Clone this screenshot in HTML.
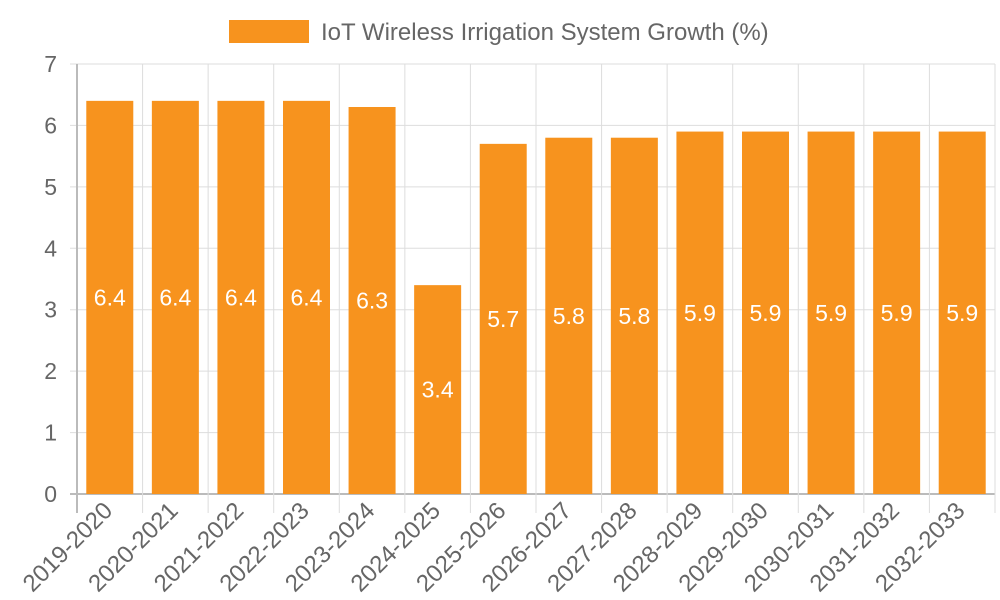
<!DOCTYPE html>
<html><head><meta charset="utf-8"><style>
body{margin:0;background:#fff;}
svg{display:block;font-family:"Liberation Sans",sans-serif;}
</style></head><body>
<svg id="chart" width="1000" height="600">
<rect x="229" y="20" width="80" height="23" fill="#f7931e"/>
<text x="321" y="40" font-size="24" fill="#666">IoT Wireless Irrigation System Growth (%)</text>
<g id="grid"></g><g id="bars"></g><g id="labels"></g>
</svg>
<script>
const categories=["2019-2020","2020-2021","2021-2022","2022-2023","2023-2024","2024-2025","2025-2026","2026-2027","2027-2028","2028-2029","2029-2030","2030-2031","2031-2032","2032-2033"];
const values=[6.4,6.4,6.4,6.4,6.3,3.4,5.7,5.8,5.8,5.9,5.9,5.9,5.9,5.9];
const yTicks=[0,1,2,3,4,5,6,7];
const NS="http://www.w3.org/2000/svg";
const L=77,R=995,T=64,B=494,yMax=7;
const cw=(R-L)/categories.length;
const y=v=>B-(v/yMax)*(B-T);
const x=i=>L+i*cw;
function mk(tag,attrs,parent){const e=document.createElementNS(NS,tag);for(const k in attrs)e.setAttribute(k,attrs[k]);parent.appendChild(e);return e;}
const g=document.getElementById('grid'),bg=document.getElementById('bars'),lg=document.getElementById('labels');
yTicks.forEach(t=>{
  const ln=mk('line',{x1:L-7,x2:R,y1:y(t),y2:y(t),stroke:t===0?'#bbb':'#ddd','stroke-width':t===0?2:1},g);
  
  
  const tx=mk('text',{x:57,y:y(t)+8,'text-anchor':'end','font-size':23,fill:'#666'},g);
  tx.textContent=t;
  
  
});
for(let i=0;i<=categories.length;i++){
  const ln=mk('line',{x1:x(i),x2:x(i),y1:T,y2:B+19,stroke:i===0?'#bbb':'#ddd','stroke-width':i===0?2:1},g);
  
  
}
categories.forEach((c,i)=>{
  const cx=x(i)+cw/2,bw=47;
  const r=mk('rect',{x:cx-bw/2,y:y(values[i]),width:bw,height:B-y(values[i]),fill:'#f7931e'},bg);
  
  
  const v=mk('text',{x:cx,y:(y(values[i])+B)/2+8,'text-anchor':'middle','font-size':23,fill:'#fff'},lg);
  v.textContent=values[i];
  
  
  const ax=cx+4,ay=B+18;
  const t=mk('text',{x:ax,y:ay,'text-anchor':'end','font-size':24,fill:'#666',transform:`rotate(-45 ${ax} ${ay})`},lg);
  t.textContent=c;
  
  
});
</script>
</body></html>
